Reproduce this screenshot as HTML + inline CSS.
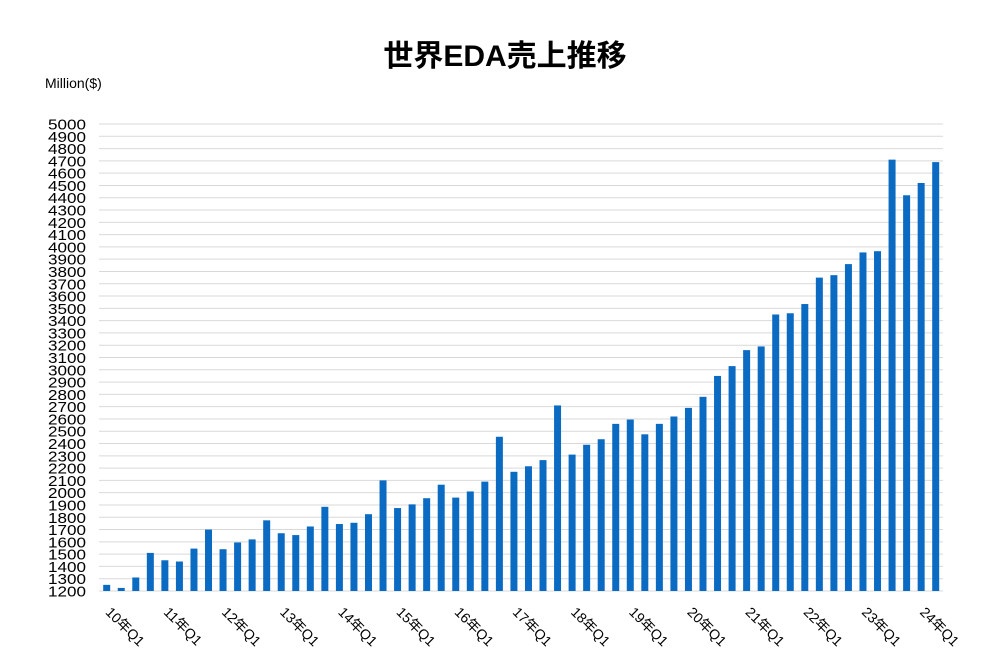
<!DOCTYPE html>
<html><head><meta charset="utf-8"><style>
body{margin:0;background:#fff;}
svg{display:block;font-family:"Liberation Sans","Noto Sans CJK JP",sans-serif;}
</style></head><body>
<svg width="1000" height="672" xmlns="http://www.w3.org/2000/svg" id="c">
<text x="505" y="66" text-anchor="middle" font-size="30" font-weight="bold" fill="#000">世界EDA売上推移</text>
<text x="45" y="88" font-size="14" fill="#000">Million($)</text>
<g id="g"></g>
</svg>
<script>
var g=document.getElementById('g'),s='';
var y0=591,k=(591-124)/3800;
for(var v=1200;v<=5000;v+=100){var y=y0-(v-1200)*k;
s+='<line x1="99" x2="943" y1="'+y+'" y2="'+y+'" stroke="#d9d9d9" stroke-width="1"/>';
s+='<text x="86" y="'+(y+5.5)+'" text-anchor="end" font-size="15" textLength="38" lengthAdjust="spacingAndGlyphs">'+v+'</text>';}
var d=[1250,1225,1310,1510,1450,1440,1545,1700,1540,1595,1620,1775,1670,1655,1725,1885,1745,1755,1825,2100,1875,1905,1955,2065,1960,2010,2090,2455,2170,2215,2265,2710,2310,2390,2435,2560,2595,2475,2560,2620,2690,2780,2950,3030,3160,3190,3450,3460,3535,3750,3770,3860,3955,3965,4710,4420,4520,4690];
var sp=(935.7-106.7)/57;
for(var i=0;i<d.length;i++){var x=106.7+i*sp,t=y0-(d[i]-1200)*k;
s+='<rect x="'+(x-3.5)+'" y="'+t+'" width="7" height="'+(y0-t)+'" fill="#0b6bc2"/>';
if(i%4==0){var yr=10+i/4;
s+='<text x="'+(x-2)+'" y="'+613+'" font-size="14" transform="rotate(45 '+(x-2)+' 613)">'+yr+'年Q1</text>';}}
g.innerHTML=s;
</script>
</body></html>
